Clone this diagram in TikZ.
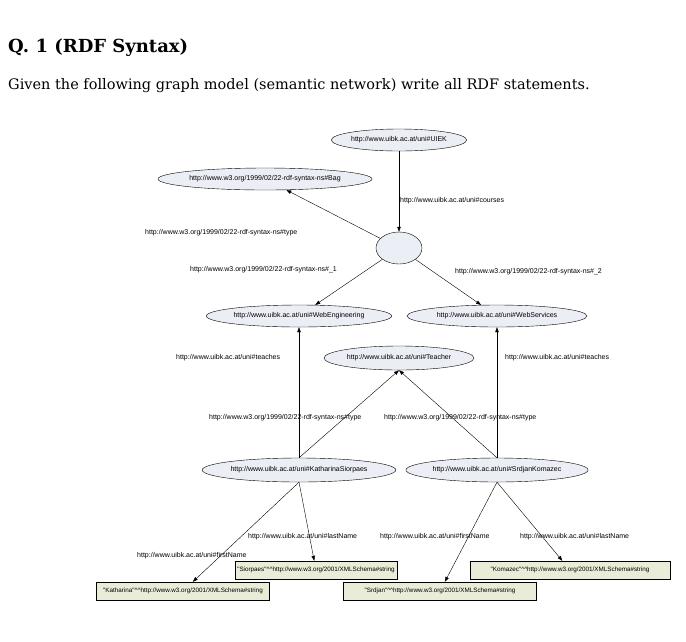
\documentclass[tikz,border=0pt]{standalone}
\usepackage{fontspec}
\setmainfont{DejaVu Serif}
\newfontfamily\diag{Liberation Sans}
\usetikzlibrary{arrows.meta,shapes.geometric}
\definecolor{efill}{HTML}{ECEEF5}
\definecolor{rfill}{HTML}{E9ECD6}
\begin{document}
\begin{tikzpicture}[x=1pt,y=-1pt,
  res/.style={ellipse,draw,fill=efill,inner sep=0pt,font=\diag\fontsize{7}{8}\selectfont},
  lit/.style={rectangle,draw,fill=rfill,inner sep=0pt,font=\diag\fontsize{6.3}{7}\selectfont},
  lbl/.style={anchor=west,inner sep=0pt,font=\diag\fontsize{7}{8}\selectfont},
  arr/.style={-{Triangle[length=5pt,width=3.5pt]},thin}]
\useasboundingbox (0,0) rectangle (686,641);
\node[anchor=west,inner sep=0pt,font=\bfseries\fontsize{18}{21}\selectfont] (title) at (8,48) {Q. 1 (RDF Syntax)};
\node[anchor=west,inner sep=0pt,font=\fontsize{14.5}{17}\selectfont] (sub) at (8,86) {Given the following graph model (semantic network) write all RDF statements.};
\node[res,minimum width=130,minimum height=22] (uiek) at (399,140) {http://www.uibk.ac.at/uni\#UIEK};
\node[res,minimum width=200,minimum height=22] (bag) at (265,179) {http://www.w3.org/1999/02/22-rdf-syntax-ns\#Bag};
\node[res,minimum width=46,minimum height=32] (blank) at (399,248) {};
\node[res,minimum width=180,minimum height=22] (we) at (299,316) {http://www.uibk.ac.at/uni\#WebEngineering};
\node[res,minimum width=180,minimum height=22] (ws) at (497,316) {http://www.uibk.ac.at/uni\#WebServices};
\node[res,minimum width=150,minimum height=24] (teacher) at (399,358) {http://www.uibk.ac.at/uni\#Teacher};
\node[res,minimum width=190,minimum height=24] (kath) at (299,470) {http://www.uibk.ac.at/uni\#KatharinaSiorpaes};
\node[res,minimum width=180,minimum height=24] (srd) at (497,470) {http://www.uibk.ac.at/uni\#SrdjanKomazec};
\node[lit,minimum width=162,minimum height=18] (lsio) at (316,570) {"Siorpaes"\^{}\^{}http://www.w3.org/2001/XMLSchema\#string};
\node[lit,minimum width=173,minimum height=18] (lkat) at (183,591) {"Katharina"\^{}\^{}http://www.w3.org/2001/XMLSchema\#string};
\node[lit,minimum width=193,minimum height=18] (lsrd) at (440,591) {"Srdjan"\^{}\^{}http://www.w3.org/2001/XMLSchema\#string};
\node[lit,minimum width=200,minimum height=18] (lkom) at (570,570) {"Komazec"\^{}\^{}http://www.w3.org/2001/XMLSchema\#string};
\draw[arr] (uiek) -- (blank);
\draw[arr] (blank) -- (bag);
\draw[arr] (blank) -- (we);
\draw[arr] (blank) -- (ws);
\draw[arr] (kath) -- (we);
\draw[arr] (srd) -- (ws);
\draw[arr] (kath.north) -- (teacher.south);
\draw[arr] (srd.north) -- (teacher.south);
\draw[arr] (kath.south) -- (lkat);
\draw[arr] (kath.south) -- (lsio);
\draw[arr] (srd.south) -- (lsrd);
\draw[arr] (srd.south) -- (lkom);
\node[lbl] (l1) at (400,201) {http://www.uibk.ac.at/uni\#courses};
\node[lbl] (l2) at (145,233) {http://www.w3.org/1999/02/22-rdf-syntax-ns\#type};
\node[lbl] (l3) at (190,270) {http://www.w3.org/1999/02/22-rdf-syntax-ns\#\_1};
\node[lbl] (l4) at (455,272) {http://www.w3.org/1999/02/22-rdf-syntax-ns\#\_2};
\node[lbl] (l5) at (176,358) {http://www.uibk.ac.at/uni\#teaches};
\node[lbl] (l6) at (505,358) {http://www.uibk.ac.at/uni\#teaches};
\node[lbl] (l7) at (209,418) {http://www.w3.org/1999/02/22-rdf-syntax-ns\#type};
\node[lbl] (l8) at (384,418) {http://www.w3.org/1999/02/22-rdf-syntax-ns\#type};
\node[lbl] (l9) at (137,556) {http://www.uibk.ac.at/uni\#firstName};
\node[lbl] (l10) at (248,537) {http://www.uibk.ac.at/uni\#lastName};
\node[lbl] (l11) at (380,537) {http://www.uibk.ac.at/uni\#firstName};
\node[lbl] (l12) at (520,537) {http://www.uibk.ac.at/uni\#lastName};
\end{tikzpicture}
\end{document}
